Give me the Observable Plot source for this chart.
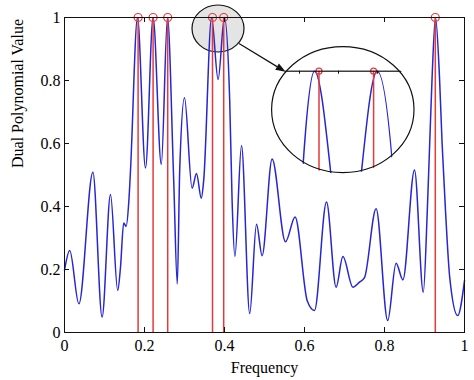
<!DOCTYPE html>
<html><head><meta charset="utf-8">
<script src="https://cdn.jsdelivr.net/npm/d3@7"></script>
<script src="https://cdn.jsdelivr.net/npm/@observablehq/plot@0.6"></script>
<style>
html,body{margin:0;padding:0;background:#fff;}
#wrap{position:relative;width:474px;height:380px;overflow:hidden;}
#wrap svg{position:absolute;}
</style></head><body><div id="wrap"></div>
<script>
// ---- data ----
const freq = [0, 0.013, 0.036, 0.071, 0.094, 0.115, 0.133, 0.140, 0.148, 0.154, 0.161, 0.165, 0.1825, 0.2025, 0.2215, 0.242, 0.2575, 0.273, 0.282, 0.288, 0.300, 0.319, 0.330, 0.342, 0.348, 0.3677, 0.384, 0.3998, 0.413, 0.419, 0.426, 0.4425, 0.463, 0.480, 0.494, 0.519, 0.5525, 0.5765, 0.607, 0.625, 0.655, 0.679, 0.696, 0.721, 0.7375, 0.750, 0.779, 0.808, 0.829, 0.846, 0.875, 0.897, 0.907, 0.913, 0.919, 0.9275, 0.9375, 0.944, 0.9525, 0.963, 0.983, 1.0];
const value = [0.197, 0.26, 0.091, 0.509, 0.049, 0.438, 0.133, 0.207, 0.348, 0.337, 0.42, 0.514, 1.0, 0.522, 1.0, 0.534, 1.0, 0.483, 0.154, 0.514, 0.745, 0.458, 0.505, 0.426, 0.483, 1.0, 0.803, 1.0, 0.737, 0.419, 0.241, 0.594, 0.06, 0.344, 0.244, 0.551, 0.288, 0.367, 0.10, 0.07, 0.414, 0.144, 0.241, 0.144, 0.16, 0.174, 0.393, 0.038, 0.22, 0.167, 0.516, 0.128, 0.387, 0.6, 0.81, 1.0, 0.81, 0.6, 0.387, 0.176, 0.054, 0.165];
const spikeFreq = [0.184, 0.2215, 0.258, 0.37, 0.398, 0.927];
const spikeValue = [1, 1, 1, 1, 1, 1];
const xTicks = [0, 0.2, 0.4, 0.6, 0.8, 1];
const yTicks = [0, 0.2, 0.4, 0.6, 0.8, 1];
const insetTicks = [0.36, 0.38, 0.40];
const xLabel = "Frequency";
const yLabel = "Dual Polynomial Value";

// ---- styling / layout ----
const BLUE = "#2626d2", RED = "#e53a3a";
const FONT = "'Liberation Serif', 'Times New Roman', serif";
const W = 474, H = 380, mL = 64, mR = 10, mT = 17, mB = 48;
const plotW = W - mL - mR, plotH = H - mT - mB;

const curve = freq.map((f, i) => ({f, v: value[i]}));
const spikes = spikeFreq.map((f, i) => ({f, v: spikeValue[i]}));
const fmt = d => String(d);

const main = Plot.plot({
  width: W, height: H,
  marginLeft: mL, marginRight: mR, marginTop: mT, marginBottom: mB,
  style: {fontFamily: FONT, fontSize: "16px", color: "#000", background: "#fff", overflow: "visible"},
  x: {domain: [0, 1]},
  y: {domain: [0, 1]},
  marks: [
    Plot.line(curve, {x: "f", y: "v", stroke: BLUE, strokeWidth: 1.5, curve: "monotone-x"}),
    Plot.ruleX(spikes, {x: "f", y1: 0, y2: "v", stroke: RED, strokeWidth: 1.5}),
    Plot.dot(spikes, {x: "f", y: "v", r: 4, stroke: RED, strokeWidth: 1.2, fill: "none"}),
    Plot.frame({stroke: "#111", strokeWidth: 1}),
    Plot.tickY(yTicks, {y: d => d, insetRight: plotW - 5, stroke: "#111"}),
    Plot.tickY(yTicks, {y: d => d, insetLeft: plotW - 5, stroke: "#111"}),
    Plot.tickX(xTicks, {x: d => d, insetTop: plotH - 5, stroke: "#111"}),
    Plot.tickX(xTicks, {x: d => d, insetBottom: plotH - 5, stroke: "#111"}),
    Plot.axisX({ticks: xTicks, tickFormat: fmt, tickSize: 0, tickPadding: 7, label: null}),
    Plot.axisY({ticks: yTicks, tickFormat: fmt, tickSize: 0, tickPadding: 4, label: null}),
    Plot.text([xLabel], {frameAnchor: "bottom", dy: 35, lineAnchor: "middle", text: d => d}),
    Plot.text([yLabel], {frameAnchor: "left", dx: -47, dy: -7, rotate: -90, lineAnchor: "middle", text: d => d})
  ]
});
main.style.left = "0px"; main.style.top = "0px";
document.getElementById("wrap").appendChild(main);

const sx = main.scale("x"), sy = main.scale("y");
const X = v => sx.apply(v), Y = v => sy.apply(v);
const NS = "http://www.w3.org/2000/svg";
function el(tag, attrs) {
  const e = document.createElementNS(NS, tag);
  for (const k in attrs) e.setAttribute(k, attrs[k]);
  return e;
}

// small highlight ellipse around peaks 4–5 (in main data coordinates)
const smallE = {f: 0.385, v: 0.9635, rf: 0.065, rv: 0.0746};
const sE = el("ellipse", {
  cx: X(smallE.f), cy: Y(smallE.v),
  rx: X(smallE.f + smallE.rf) - X(smallE.f), ry: Y(smallE.v - smallE.rv) - Y(smallE.v),
  fill: "#e4e4e4", stroke: "#111", "stroke-width": 1.2
});
const lineG = main.querySelector('[aria-label="line"]');
main.insertBefore(sE, lineG);

// arrow
const arrow = {f1: 0.4375, v1: 0.916, f2: 0.554, v2: 0.826};
{
  const x1 = X(arrow.f1), y1 = Y(arrow.v1), x2 = X(arrow.f2), y2 = Y(arrow.v2);
  const dx = x2 - x1, dy = y2 - y1, L = Math.hypot(dx, dy), ux = dx / L, uy = dy / L;
  const hl = 10, hw = 3.6;
  const bx = x2 - ux * hl, by = y2 - uy * hl;
  main.appendChild(el("line", {x1, y1, x2: bx, y2: by, stroke: "#111", "stroke-width": 1.2}));
  main.appendChild(el("polygon", {
    points: `${x2},${y2} ${bx - uy * hw},${by + ux * hw} ${bx + uy * hw},${by - ux * hw}`,
    fill: "#111"
  }));
}

// big ellipse (magnified view)
const bigE = {f: 0.697, v: 0.706, rf: 0.178, rv: 0.2};
const ecx = X(bigE.f), ecy = Y(bigE.v);
const erx = X(bigE.f + bigE.rf) - ecx, ery = Y(bigE.v - bigE.rv) - ecy;

// inset plot: x domain / y domain and its frame position in page pixels
const insetX = [0.34, 0.425], insetY = [0.895, 1];
const insetPxPerX = 1950, insetPxPerY = 1000;
const insetFrameLeft = 260, insetFrameTop = 70.7;
const iw = (insetX[1] - insetX[0]) * insetPxPerX, ih = (insetY[1] - insetY[0]) * insetPxPerY;
const svgLeft = Math.floor(ecx - erx - 20), svgTop = Math.floor(ecy - ery - 6);
const svgW = Math.ceil(ecx + erx + 20 - svgLeft), svgH = Math.ceil(ecy + ery + 6 - svgTop);
const iml = insetFrameLeft - svgLeft, imt = insetFrameTop - svgTop;
const imr = svgW - iml - iw, imb = svgH - imt - ih;

const insetCurve = curve.filter(d => d.f > 0.3 && d.f < 0.46);
const insetSpikes = spikes.filter(d => d.f > insetX[0] && d.f < insetX[1]);
const inset = Plot.plot({
  width: svgW, height: svgH,
  marginLeft: iml, marginRight: imr, marginTop: imt, marginBottom: imb,
  style: {background: "#fff", overflow: "hidden"},
  x: {domain: insetX, axis: null}, y: {domain: insetY, axis: null},
  marks: [
    Plot.line(insetCurve, {x: "f", y: "v", stroke: BLUE, strokeWidth: 1.5, curve: "monotone-x"}),
    Plot.ruleX(insetSpikes, {x: "f", y1: 0, y2: "v", stroke: RED, strokeWidth: 1.5}),
    Plot.dot(insetSpikes, {x: "f", y: "v", r: 3, stroke: RED, strokeWidth: 1.2, fill: "none"}),
    Plot.frame({stroke: "#111", strokeWidth: 1.2}),
    Plot.tickX(insetTicks, {x: d => d, insetBottom: ih - 3, stroke: "#111"})
  ]
});
inset.style.left = svgLeft + "px"; inset.style.top = svgTop + "px";
const lcx = ecx - svgLeft, lcy = ecy - svgTop;
inset.style.clipPath = `ellipse(${erx + 1.5}px ${ery + 1.5}px at ${lcx}px ${lcy}px)`;
inset.appendChild(el("ellipse", {cx: lcx, cy: lcy, rx: erx, ry: ery, fill: "none", stroke: "#111", "stroke-width": 1.2}));
document.getElementById("wrap").appendChild(inset);
</script></body></html>
